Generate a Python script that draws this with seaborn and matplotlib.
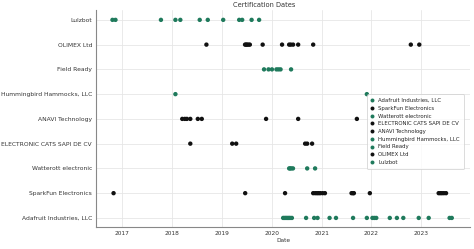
import pandas as pd
import seaborn as sns
import matplotlib.pyplot as plt

# certification dates per company
adafruit = ['2020-03-25', '2020-04-05', '2020-04-15', '2020-04-25', '2020-05-05', '2020-05-15',
            '2020-05-28', '2020-09-09', '2020-11-07', '2020-12-02', '2021-02-28', '2021-04-16',
            '2021-08-19', '2021-11-28', '2022-01-08', '2022-01-22', '2022-02-05', '2022-05-15',
            '2022-07-06', '2022-08-22', '2022-12-13', '2023-02-24', '2023-07-27', '2023-08-12']
sparkfun = ['2016-10-30', '2019-06-21', '2020-04-08', '2020-10-31', '2020-11-15', '2020-11-28',
            '2020-12-10', '2020-12-22', '2021-01-08', '2021-01-25', '2021-08-08', '2021-08-18',
            '2021-08-25', '2021-12-20', '2023-05-08', '2023-05-20', '2023-06-01', '2023-06-15',
            '2023-07-01']
watterott = ['2020-05-08', '2020-05-15', '2020-05-24', '2020-06-05', '2020-09-17', '2020-11-14']
electronic_cats = ['2018-05-15', '2019-03-18', '2019-04-16', '2020-09-02', '2020-09-17', '2020-10-23']
anavi = ['2018-03-17', '2018-04-05', '2018-04-20', '2018-05-15', '2018-07-09', '2018-08-07',
         '2019-11-21', '2020-07-13', '2021-09-16']
hummingbird = ['2018-01-26', '2021-11-28']
field_ready = ['2019-11-06', '2019-12-09', '2020-01-03', '2020-02-05', '2020-02-20', '2020-03-06',
               '2020-05-22']
olimex = ['2018-09-10', '2019-06-20', '2019-06-28', '2019-07-05', '2019-07-15', '2019-07-25',
          '2019-10-27', '2020-03-17', '2020-05-08', '2020-05-20', '2020-06-06', '2020-07-13',
          '2020-10-31', '2022-10-16', '2022-12-17']
lulzbot = ['2016-10-22', '2016-11-13', '2017-10-12', '2018-01-26', '2018-03-03', '2018-07-23',
           '2018-09-20', '2019-01-11', '2019-05-08', '2019-05-30', '2019-08-07', '2019-10-01']

companies = ['Adafruit Industries, LLC', 'SparkFun Electronics', 'Watterott electronic',
             'ELECTRONIC CATS SAPI DE CV', 'ANAVI Technology', 'Hummingbird Hammocks, LLC',
             'Field Ready', 'OLIMEX Ltd', 'Lulzbot']
dates = [adafruit, sparkfun, watterott, electronic_cats, anavi, hummingbird,
         field_ready, olimex, lulzbot]

green = '#1f7a5c'
black = '#111111'
colors = [green, black, green, black, black, green, green, black, green]

rows = []
for c, ds in zip(companies, dates):
    for d in ds:
        rows.append({'Company': c, 'Date': pd.Timestamp(d)})
df = pd.DataFrame(rows)

sns.set_style('whitegrid')
plt.rcParams['font.family'] = ['DejaVu Sans']

fig = plt.figure(figsize=(4.74, 2.49), dpi=100)
ax = fig.add_axes([0.203, 0.088, 0.789, 0.872])

sns.scatterplot(data=df, x='Date', y='Company', hue='Company', hue_order=companies,
                palette=dict(zip(companies, colors)), s=10, linewidth=0, ax=ax)

ax.set_ylim(-0.37, 8.4)
ax.set_xlim(pd.Timestamp('2016-06-25'), pd.Timestamp('2023-12-25'))
ax.set_title('Certification Dates', fontsize=4.8, color='#333333', pad=2, x=0.45)
ax.set_xlabel('Date', fontsize=4.2, color='#333333', labelpad=1)
ax.set_ylabel('')
ax.tick_params(axis='x', labelsize=4.2, colors='#333333', length=2, width=0.5, pad=1)
ax.tick_params(axis='y', labelsize=4.3, colors='#333333', length=2, width=0.5, pad=1)
ax.grid(color='#e6e6e6', linewidth=0.6)
for side in ['top', 'right']:
    ax.spines[side].set_visible(False)
for side in ['left', 'bottom']:
    ax.spines[side].set_color('#888888')
    ax.spines[side].set_linewidth(0.8)

leg = ax.legend(loc='center right', bbox_to_anchor=(0.99, 0.44), fontsize=3.9,
                markerscale=0.9, frameon=True, handlelength=0.6, handletextpad=0.9,
                labelspacing=0.5, borderpad=0.7)
leg.get_frame().set_edgecolor('#cccccc')
leg.get_frame().set_linewidth(0.6)

fig.savefig('out.png', dpi=100)
